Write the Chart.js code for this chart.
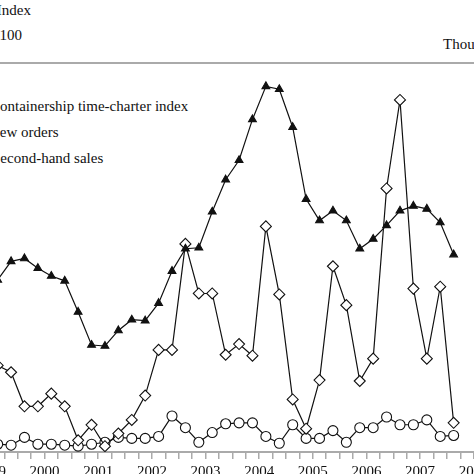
<!DOCTYPE html>
<html>
<head>
<meta charset="utf-8">
<script src="https://cdn.jsdelivr.net/npm/chart.js@4"></script>
<style>
  body { margin: 0; width: 474px; height: 474px; overflow: hidden; position: relative; background: #fff; font-family: "Liberation Serif", "DejaVu Serif", serif; }
  .lbl { position: absolute; font-size: 15px; color: #111; white-space: nowrap; }
  #wrap { position: absolute; left: -100px; top: 0; width: 700px; height: 474px; }
  #topline { position: absolute; left: 0; top: 62px; width: 474px; height: 2px; background: #aaa; }
</style>
</head>
<body>
<div class="lbl" style="right:443px; top:2px;">Index</div>
<div class="lbl" style="right:452px; top:27px;">1990=100</div>
<div class="lbl" style="left:443px; top:36px;">Thousand TEU</div>
<div id="topline"></div>
<div class="lbl" style="left:-10px; top:98px;">Containership time-charter index</div>
<div class="lbl" style="left:-11px; top:124px;">New orders</div>
<div class="lbl" style="left:-8px; top:150px;">Second-hand sales</div>
<div id="wrap"><canvas id="c" width="700" height="474"></canvas></div>
<script>
// trimestres (index 0 = fin 1999 environ)
const quarters = Array.from({ length: 35 }, (_, i) => i);
const charterIndex = [177,196,199,189,181,176,144,110,109,125,136,135,153,186,209,210,247,280,300,342,376,373,334,260,238,248,238,209,219,233,248,253,250,236,203];
const newOrders = [89,82,47,47,60,47,12,28,6,19,33,58,105,105,214,163,163,100,111,99,232,162,54,24,74,191,151,73,96,271,362,168,96,170,30];
const secondHand = [8,7,15,8,8,7,6,8,10,15,14,14,16,37,25,10,20,29,30,30,16,9,28,14,14,22,10,25,25,36,28,28,33,16,17];
const firstYear = 2000; // label placé sur la limite d'année à x = 3.5

const pts = (arr) => arr.map((v, i) => ({ x: quarters[i], y: v }));
const base = { borderColor: "#111", borderWidth: 1.2, tension: 0, pointBorderColor: "#111", pointBorderWidth: 1.1 };

new Chart(document.getElementById("c"), {
  type: "line",
  data: {
    datasets: [
      { ...base, label: "Containership time-charter index", data: pts(charterIndex), pointStyle: "triangle", pointRadius: 4.5, pointBackgroundColor: "#111" },
      { ...base, label: "New orders", data: pts(newOrders), pointStyle: "rectRot", pointRadius: 5.5, pointBackgroundColor: "#fff" },
      { ...base, label: "Second-hand sales", data: pts(secondHand), pointStyle: "circle", pointRadius: 5, pointBackgroundColor: "#fff" },
    ],
  },
  options: {
    responsive: false,
    animation: false,
    layout: { padding: { top: 63, left: 0, right: 0, bottom: 0 } },
    plugins: { legend: { display: false }, tooltip: { enabled: false } },
    scales: {
      y: { display: false, min: 0, max: 400 },
      x: {
        type: "linear",
        min: -6.79,
        max: 43.21,
        afterFit: (s) => { s.height = 22; },
        afterBuildTicks: (s) => {
          const t = [];
          for (let k = -7; k <= 43; k++) t.push({ value: k + 0.5 });
          s.ticks = t;
        },
        border: { color: "#aaa", width: 2 },
        grid: { drawOnChartArea: false, color: "#aaa", tickLength: 7, lineWidth: 1.5 },
        ticks: {
          autoSkip: false,
          maxRotation: 0,
          padding: 4,
          color: "#111",
          font: { family: "Liberation Serif", size: 15 },
          callback: (v) => {
            const y = (v - 3.5) / 4;
            return Number.isInteger(y) ? String(firstYear + y) : "";
          },
        },
      },
    },
  },
});
</script>
</body>
</html>
